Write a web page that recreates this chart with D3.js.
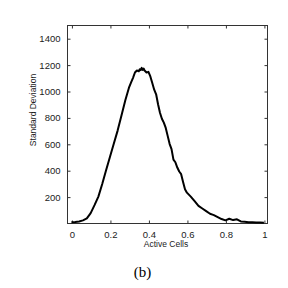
<!DOCTYPE html>
<html>
<head>
<meta charset="utf-8">
<script src="https://cdn.jsdelivr.net/npm/d3@7"></script>
<style>
  body { margin: 0; background: #fff; }
  text { font-family: "Liberation Sans", Arial, sans-serif; fill: #222; }
</style>
</head>
<body>
<svg id="chart" width="288" height="288"></svg>
<script>
// Active cells (x) vs standard deviation (y)
let activeCells = [0.00, 0.02, 0.04, 0.06, 0.08, 0.10, 0.12, 0.14, 0.16, 0.18,
    0.20, 0.22, 0.24, 0.26, 0.28, 0.30, 0.31, 0.32, 0.33, 0.34,
    0.35, 0.355, 0.36, 0.365, 0.37, 0.375, 0.38, 0.39, 0.40, 0.41,
    0.42, 0.43, 0.44, 0.45, 0.46, 0.47, 0.48, 0.49, 0.50, 0.51,
    0.52, 0.53, 0.54, 0.55, 0.56, 0.57, 0.58, 0.59, 0.60, 0.62,
    0.64, 0.66, 0.68, 0.70, 0.72, 0.74, 0.76, 0.78, 0.80, 0.82,
    0.84, 0.86, 0.88, 0.90, 0.92, 0.94, 0.96, 0.98, 1.00];
let stdDev = [5, 8, 12, 20, 35, 75, 135, 200, 295, 400,
    500, 600, 700, 815, 930, 1030, 1065, 1100, 1140, 1155,
    1150, 1165, 1158, 1175, 1160, 1170, 1155, 1140, 1145, 1110,
    1060, 1010, 975, 900, 835, 790, 760, 720, 660, 600,
    560, 480, 460, 420, 390, 370, 310, 255, 230, 200,
    165, 130, 110, 90, 70, 60, 45, 30, 20, 32,
    22, 28, 12, 10, 6, 5, 4, 3, 2];

let xTicks = [0, 0.2, 0.4, 0.6, 0.8, 1];
let yTicks = [200, 400, 600, 800, 1000, 1200, 1400];

let svg = d3.select("#chart");
let plotLeft = 67, plotTop = 25, plotRight = 267, plotBottom = 223;

let x = d3.scaleLinear().domain([-0.023, 1.016]).range([plotLeft, plotRight]);
let y = d3.scaleLinear().domain([0, 1500]).range([plotBottom, plotTop]);

// frame
svg.append("rect")
    .attr("x", plotLeft + 0.5).attr("y", plotTop + 0.5)
    .attr("width", plotRight - plotLeft).attr("height", plotBottom - plotTop)
    .attr("fill", "none").attr("stroke", "#333").attr("stroke-width", 1);

// axes with ticks pointing inward
svg.append("g").attr("transform", `translate(0.5,${plotBottom + 0.5})`)
    .call(d3.axisBottom(x).tickValues(xTicks).tickFormat(d => String(d)).tickSizeInner(-3).tickSizeOuter(0).tickPadding(8));
svg.append("g").attr("transform", `translate(${plotLeft + 0.5},0.5)`)
    .call(d3.axisLeft(y).tickValues(yTicks).tickFormat(d => String(d)).tickSizeInner(-3).tickSizeOuter(0).tickPadding(7));
svg.append("g").attr("transform", `translate(0.5,${plotTop + 0.5})`)
    .call(d3.axisTop(x).tickValues(xTicks).tickFormat("").tickSizeInner(-3).tickSizeOuter(0));
svg.append("g").attr("transform", `translate(${plotRight + 0.5},0.5)`)
    .call(d3.axisRight(y).tickValues(yTicks).tickFormat("").tickSizeInner(-3).tickSizeOuter(0));

svg.selectAll(".domain").remove();
svg.selectAll(".tick line").attr("stroke", "#333");
svg.selectAll(".tick text").attr("font-size", 9.5).attr("font-family", "Liberation Sans, Arial, sans-serif").attr("fill", "#222");

// the curve
let line = d3.line()
    .x((d, i) => x(activeCells[i]))
    .y(d => y(d));

svg.append("path")
    .datum(stdDev)
    .attr("d", line)
    .attr("fill", "none")
    .attr("stroke", "#000")
    .attr("stroke-width", 2)
    .attr("stroke-linejoin", "round");

// axis titles
svg.append("text")
    .attr("x", 166).attr("y", 247)
    .attr("text-anchor", "middle")
    .attr("font-size", 8.5)
    .text("Active Cells");

svg.append("text")
    .attr("transform", "translate(36,110) rotate(-90)")
    .attr("text-anchor", "middle")
    .attr("font-size", 8.5)
    .text("Standard Deviation");

// panel label
svg.append("text")
    .attr("x", 142.5).attr("y", 277)
    .attr("text-anchor", "middle")
    .attr("font-size", 15)
    .style("font-family", "Liberation Serif, Times New Roman, serif")
    .style("fill", "#000")
    .text("(b)");
</script>
</body>
</html>
